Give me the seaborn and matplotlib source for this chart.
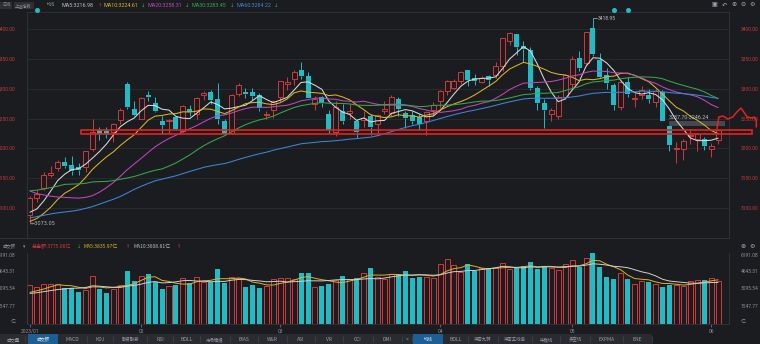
import numpy as np
import pandas as pd
import matplotlib
matplotlib.use("Agg")
import matplotlib.pyplot as plt
import seaborn as sns
from matplotlib.patches import Rectangle

# ---------------- data (Shanghai Composite, daily, 2023-01-03 .. 2023-06-02) ----------------
open_ = [3087.5, 3117.0, 3132.8, 3155.0, 3167.0, 3177.0, 3171.5, 3169.0, 3169.0, 3199.0,
         3230.0, 3229.0, 3228.0, 3248.0, 3308.0, 3266.0, 3250.0, 3290.0, 3276.5, 3245.5,
         3246.0, 3253.0, 3229.0, 3266.0, 3257.0, 3290.0, 3294.0, 3282.0, 3245.0, 3226.0,
         3292.0, 3294.0, 3294.0, 3289.0, 3256.0, 3265.0, 3287.0, 3308.0, 3316.0, 3332.0,
         3321.0, 3275.0, 3286.0, 3257.0, 3228.0, 3262.0, 3259.0, 3245.0, 3247.0, 3254.0,
         3240.0, 3262.0, 3260.0, 3283.0, 3259.0, 3256.0, 3253.0, 3245.0, 3264.0, 3279.0,
         3296.0, 3302.0, 3313.0, 3331.0, 3318.0, 3312.0, 3321.0, 3324.0, 3338.0, 3380.0,
         3391.6, 3372.0, 3365.0, 3301.0, 3276.5, 3257.0, 3255.0, 3286.0, 3308.0, 3352.0,
         3344.0, 3403.0, 3348.0, 3324.0, 3306.0, 3270.0, 3311.0, 3282.0, 3290.0, 3290.0,
         3278.0, 3295.0, 3237.7, 3198.0, 3198.0, 3220.0, 3216.0, 3215.0, 3198.0, 3214.6]
high = [3119.9, 3129.0, 3159.4, 3170.7, 3181.0, 3185.0, 3187.0, 3175.0, 3196.0, 3250.0,
        3235.0, 3236.0, 3242.0, 3267.0, 3311.0, 3279.0, 3287.0, 3296.0, 3286.0, 3255.0,
        3250.0, 3254.0, 3272.0, 3272.0, 3286.0, 3296.0, 3298.0, 3310.0, 3250.0, 3292.0,
        3309.0, 3302.0, 3302.0, 3293.0, 3262.0, 3281.0, 3313.0, 3319.0, 3331.0, 3345.0,
        3328.0, 3288.0, 3288.0, 3264.0, 3280.0, 3275.0, 3274.0, 3250.0, 3262.0, 3258.0,
        3258.0, 3279.0, 3290.0, 3286.0, 3262.0, 3263.0, 3258.0, 3263.0, 3277.0, 3298.0,
        3314.0, 3316.0, 3330.0, 3332.0, 3325.0, 3322.0, 3324.0, 3345.0, 3386.0, 3396.0,
        3392.0, 3380.0, 3370.0, 3305.0, 3282.0, 3268.0, 3290.0, 3325.0, 3355.0, 3364.0,
        3396.0, 3418.95, 3360.0, 3335.0, 3310.0, 3314.0, 3320.0, 3293.0, 3305.0, 3300.0,
        3300.0, 3298.0, 3237.7, 3210.0, 3216.0, 3233.0, 3226.0, 3219.0, 3209.0, 3231.0]
low = [3073.05, 3109.0, 3130.2, 3151.0, 3161.0, 3166.0, 3155.0, 3155.0, 3160.0, 3195.0,
       3214.0, 3218.0, 3211.0, 3240.0, 3266.0, 3254.0, 3249.0, 3280.0, 3261.0, 3224.0,
       3225.0, 3230.0, 3228.0, 3255.0, 3250.0, 3281.0, 3275.0, 3240.0, 3222.0, 3224.0,
       3288.0, 3284.0, 3281.0, 3263.0, 3250.0, 3251.0, 3278.0, 3298.0, 3306.0, 3317.0,
       3285.0, 3265.0, 3270.0, 3226.0, 3220.0, 3240.0, 3250.0, 3218.0, 3235.0, 3222.0,
       3225.0, 3258.0, 3255.0, 3255.0, 3234.0, 3240.0, 3230.0, 3223.0, 3255.0, 3268.0,
       3290.0, 3300.0, 3308.0, 3305.0, 3306.0, 3310.0, 3305.0, 3318.0, 3330.0, 3374.0,
       3357.0, 3345.0, 3298.0, 3265.0, 3234.0, 3246.0, 3250.0, 3283.0, 3300.0, 3330.0,
       3340.0, 3355.0, 3318.0, 3300.0, 3265.0, 3265.0, 3287.0, 3270.0, 3282.0, 3276.0,
       3270.0, 3246.24, 3196.0, 3176.0, 3181.0, 3207.0, 3195.0, 3197.0, 3186.0, 3207.0]
close = [3116.51, 3123.52, 3155.22, 3157.64, 3176.08, 3169.51, 3161.84, 3163.45, 3195.31, 3227.59,
         3224.24, 3224.41, 3240.28, 3264.81, 3269.32, 3255.67, 3284.92, 3285.67, 3263.41, 3238.70,
         3248.09, 3232.11, 3270.38, 3260.67, 3284.16, 3293.28, 3280.49, 3249.03, 3224.02, 3290.34,
         3306.52, 3291.15, 3287.48, 3267.16, 3258.03, 3279.61, 3312.35, 3310.65, 3328.39, 3322.03,
         3285.10, 3283.25, 3276.09, 3230.08, 3268.70, 3245.31, 3263.31, 3226.89, 3250.55, 3234.91,
         3255.65, 3265.75, 3286.65, 3265.65, 3251.40, 3245.38, 3240.06, 3261.25, 3272.86, 3296.40,
         3312.56, 3312.63, 3327.65, 3315.36, 3313.57, 3318.36, 3314.64, 3338.15, 3385.61, 3393.33,
         3370.13, 3367.03, 3301.26, 3275.41, 3264.87, 3264.10, 3285.88, 3323.27, 3350.46, 3334.50,
         3395.00, 3357.67, 3319.15, 3309.55, 3272.36, 3310.74, 3290.99, 3284.22, 3297.32, 3283.54,
         3296.47, 3246.24, 3204.70, 3201.26, 3212.50, 3221.45, 3224.21, 3204.56, 3204.63, 3230.07]
# closes of the 59 sessions before the window (needed for the moving averages at the left edge)
warmup_close = [2979.79, 3025.51, 3016.36, 3071.99, 3084.94, 3080.96, 3044.38, 3035.05, 3038.93, 2977.56,
                2976.28, 2999.50, 2982.90, 2915.93, 2893.48, 2969.20, 3003.37, 2997.81, 3070.80, 3077.82,
                3064.49, 3048.17, 3036.13, 3087.29, 3083.40, 3134.08, 3119.98, 3115.43, 3097.24, 3085.04,
                3088.94, 3096.91, 3089.31, 3101.69, 3078.55, 3149.75, 3151.34, 3165.47, 3156.14, 3211.81,
                3212.53, 3199.62, 3197.35, 3206.95, 3179.04, 3176.33, 3176.53, 3168.65, 3167.86, 3107.12,
                3073.77, 3068.41, 3054.43, 3045.87, 3065.56, 3095.57, 3087.40, 3073.70, 3089.26]
# turnover (亿)
amount = [3386, 3241, 3473, 3444, 3502, 3097, 3097, 2807, 2952, 4167,
          3039, 2720, 3010, 3386, 4601, 3762, 4167, 4370, 3617, 3010,
          3299, 3386, 4023, 3589, 4052, 3675, 3617, 4746, 3589, 4052,
          3965, 3241, 3386, 3097, 3299, 3878, 3965, 3965, 3907, 4399,
          4399, 3183, 3328, 3473, 3820, 4167, 3878, 4023, 4399, 4833,
          4100, 3878, 4341, 4341, 4601, 4023, 4110, 4052, 4023, 5209,
          5643, 5122, 4486, 5209, 4601, 4833, 4833, 4833, 5325, 4775,
          4833, 5065, 5354, 4775, 4978, 4833, 4688, 5209, 5556, 4978,
          5701, 6191.08, 4978, 4052, 3907, 4399, 3907, 3473, 3733, 3675,
          3500, 3250, 3400, 3420, 3338, 3760, 3780, 3850, 4015, 3775.08]
warmup_amount = [2710, 2480, 2530, 2620, 2510, 2570, 2690, 2450, 2650]

month_pos = [0, 16, 36, 59, 78, 98]
month_labels = ["2023/01", "02", "03", "04", "05", "06"]
price_ticks = [3100, 3150, 3200, 3250, 3300, 3350, 3400]
vol_ticks = [0, 1547.77, 3095.54, 4643.31, 6191.08]
vol_tick_labels = ["亿", "1547.77", "3095.54", "4643.31", "6191.08"]

ma_periods = [5, 10, 20, 30, 60]
ma_colors = ["#d9d9d9", "#d8b526", "#c046be", "#35a84a", "#3a86d8"]
ma_header = ["MA5:3216.98", "MA10:3224.61", "MA20:3258.31", "MA30:3283.45", "MA60:3284.22"]
ma_arrows = ["↑", "↓", "↓", "↓", "↓"]

event_pos = [1, 84, 86]
gap_range = [3237.70, 3246.24]
box_range = [3224.2, 3230.4]
sketch_x = [98.85, 99.1, 99.7, 100.4, 101.1, 101.7, 102.3, 102.7, 103.2, 103.9, 104.2, 104.5, 104.5]
sketch_y = [3233.5, 3252.5, 3254.2, 3249.2, 3252.5, 3260.9, 3267.7, 3260.9, 3252.5, 3250.9, 3252.5, 3247.5, 3235.7]

# ---------------- style ----------------
BG = "#1b1c20"
RED = "#d2393a"
CYAN = "#1fbcc6"
GRID = "#2c2d33"
TXT = "#8d919a"
LBLRED = "#c9383a"
GREEN = "#2fb54c"
MARK = "#e3241e"
AXFS = 3.5
NUMFONT = ["Roboto", "DejaVu Sans"]

sns.set_theme(style="dark")
plt.rcParams['font.family'] = ['Noto Sans CJK SC', 'DejaVu Sans']
plt.rcParams['axes.unicode_minus'] = False

W, H = 760, 344
fig = plt.figure(figsize=(W / 100, H / 100), dpi=100, facecolor=BG)

def fx(px):
    return px / W

def fy(py):
    return 1 - py / H

o = np.array(open_); h = np.array(high); l = np.array(low); c = np.array(close)
amt = np.array(amount, dtype=float)
n = len(c)
x = np.arange(n)

# ---------------- price panel ----------------
ax = fig.add_axes([fx(27), fy(238), (729 - 27) / W, (238 - 12.3) / H])
ax.set_facecolor(BG)
ax.set_xlim(-0.43, 100.57)
ax.set_ylim(3049.1, 3428.6)
for s in ax.spines.values():
    s.set_color("#33343a"); s.set_linewidth(0.6)
ax.set_yticks(price_ticks)
ax.set_yticklabels([f"{v:.2f}" for v in price_ticks], family=NUMFONT)
ax.tick_params(axis="y", which="both", left=False, right=False, labelleft=True, labelright=True,
               labelsize=AXFS, labelcolor=LBLRED, pad=2.2)
ax.set_xticks([])
ax.grid(axis="y", color=GRID, lw=0.6)
ax.grid(axis="x", visible=False)

up = c >= o
col = np.where(up, RED, CYAN)
blo = np.minimum(o, c); bhi = np.maximum(o, c)
ax.vlines(x, l, blo, colors=col, lw=0.7, zorder=2)
ax.vlines(x, bhi, h, colors=col, lw=0.7, zorder=2)
hgt = np.maximum(bhi - blo, 0.9)
ax.bar(x[up], hgt[up], bottom=blo[up], width=0.72, facecolor=BG, edgecolor=RED, linewidth=0.7, zorder=2)
ax.bar(x[~up], hgt[~up], bottom=blo[~up], width=0.72, color=CYAN, linewidth=0, zorder=2)

full_close = pd.Series(warmup_close + close)
for p, colr in zip(ma_periods, ma_colors):
    ma = full_close.rolling(p).mean().iloc[len(warmup_close):].to_numpy()
    sns.lineplot(x=x, y=ma, ax=ax, color=colr, lw=0.75, legend=False, zorder=3)

# gap box
ax.add_patch(Rectangle((91.9, gap_range[0]), 8.1, gap_range[1] - gap_range[0], facecolor="#55585e",
                       edgecolor="none", alpha=0.75, zorder=1))
ax.text(91.9, gap_range[1] + 1.5, f"{gap_range[0]:.2f}-{gap_range[1]:.2f}", color="#b8bcc4",
        fontsize=3.9, va="bottom", ha="left", zorder=4, family=NUMFONT)

# high / low labels
ih = int(np.argmax(h)); il = int(np.argmin(l))
ax.plot([ih, ih + 0.6], [h[ih], h[ih]], color="#b8bcc4", lw=0.5, zorder=4)
ax.text(ih + 0.65, h[ih], f"{h[ih]:.2f}", color="#b8bcc4", fontsize=3.6, va="center", ha="left",
        family=NUMFONT)
ax.text(il + 0.1, l[il], f"←{l[il]:.2f}", color="#b8bcc4", fontsize=3.6, va="center", ha="left",
        family=["DejaVu Sans"])

# event dots
ax.plot(event_pos, [3432] * len(event_pos), ls="none", marker="o", ms=2.6, color=CYAN, clip_on=False, zorder=5)

# hand-drawn marks
ax.add_patch(Rectangle((7.3, box_range[0]), 96.6, box_range[1] - box_range[0], fill=False,
                       edgecolor=MARK, lw=1.2, clip_on=False, zorder=6))
ax.plot(sketch_x, sketch_y, color=MARK, lw=1.1, clip_on=False, zorder=6)

# ---------------- volume panel ----------------
axv = fig.add_axes([fx(27), fy(324), (729 - 27) / W, (324 - 252.7) / H])
axv.set_facecolor(BG)
axv.set_xlim(-0.43, 100.57)
axv.set_ylim(0, 6191.08)
for s in axv.spines.values():
    s.set_color("#33343a"); s.set_linewidth(0.6)
axv.spines["top"].set_visible(False)
axv.bar(x[up], amt[up], width=0.72, facecolor=BG, edgecolor=RED, linewidth=0.7, zorder=2)
axv.bar(x[~up], amt[~up], width=0.72, color=CYAN, linewidth=0, zorder=2)
full_amt = pd.Series(warmup_amount + amount, dtype=float)
for p, colr in zip([5, 10], ["#d8b526", "#d0d0d0"]):
    ma = full_amt.rolling(p).mean().iloc[len(warmup_amount):].to_numpy()
    sns.lineplot(x=x, y=ma, ax=axv, color=colr, lw=0.7, legend=False, zorder=3)
axv.set_yticks(vol_ticks)
axv.set_yticklabels(vol_tick_labels)
axv.tick_params(axis="y", left=False, right=False, labelleft=True, labelright=True,
                labelsize=AXFS, labelcolor=TXT, pad=2.2)
for lab in axv.get_yticklabels():
    if lab.get_text() == "6191.08":
        lab.set_va("top")
    elif lab.get_text() == "亿":
        lab.set_va("bottom")
    if lab.get_text() != "亿":
        lab.set_family(NUMFONT)
axv.grid(False)
axv.set_xticks(month_pos)
axv.set_xticklabels(month_labels, family=NUMFONT)
axv.tick_params(axis="x", bottom=True, length=2, width=0.6, color="#6b6e76", labelsize=AXFS,
                labelcolor=TXT, pad=1.5)

# ---------------- header texts ----------------
def t(px, py, s, color=TXT, size=4.0, ha="left", **kw):
    fig.text(fx(px), fy(py), s, color=color, fontsize=size, ha=ha, va="center", **kw)

fig.patches.append(Rectangle((fx(0), fy(9)), fx(12), 7 / H, transform=fig.transFigure,
                             facecolor="#2e2f35", edgecolor="none"))
fig.patches.append(Rectangle((fx(13.5), fy(9)), fx(20), 7 / H, transform=fig.transFigure,
                             facecolor="#2e2f35", edgecolor="none"))
t(2, 5.3, "日线", size=3.0)
t(15, 5.3, "上证指数", size=3.0)
t(47, 5.3, "均线", size=3.0)
hx = [61, 103, 147, 191, 236]
arrow_x = [97.5, 141, 185, 230, 274]
for px, ax_, s, colr, arr in zip(hx, arrow_x, ma_header, ma_colors, ma_arrows):
    fig.text(fx(px), fy(5.3), s, color=colr if colr != "#d9d9d9" else "#b9bcc2", fontsize=3.9,
             ha="left", va="center", family=NUMFONT)
    t(ax_, 5.3, arr, color=(RED if arr == "↑" else GREEN), size=3.8, family=["DejaVu Sans"])

for px, s in zip([714, 724, 734, 743, 752], ["▣", "↶", "⊕", "⊖", "⚙"]):
    t(px, 4.5, s, color="#a9acb3", size=4.4, ha="center", family=["DejaVu Sans"])

# volume header
t(3, 246.5, "成交额", size=3.2)
t(22.5, 246.5, "▾", size=3.4, family=["DejaVu Sans"])
t(32, 246.5, "总金额:3775.08亿", color="#d23a3a", size=3.6)
t(76.5, 246.5, "↓", color=GREEN, size=3.6, family=["DejaVu Sans"])
t(84, 246.5, "MA5:3835.97亿", color="#d8b526", size=3.6)
t(125.5, 246.5, "↑", color=RED, size=3.6, family=["DejaVu Sans"])
t(133, 246.5, "MA10:3608.81亿", color="#b9bcc2", size=3.6)
t(177, 246.5, "↑", color=RED, size=3.6, family=["DejaVu Sans"])
t(743, 246, "⊗", color="#a9acb3", size=4.4, ha="center", family=["DejaVu Sans"])
t(752, 246, "⚙", color="#a9acb3", size=4.4, ha="center", family=["DejaVu Sans"])

# separator line between panels
fig.lines.append(plt.Line2D([0, fx(729)], [fy(238), fy(238)], transform=fig.transFigure,
                            color="#33343a", lw=0.6))

# ---------------- bottom tab bar ----------------
fig.patches.append(Rectangle((0, 0), fx(652), 10 / H, transform=fig.transFigure,
                             facecolor="#2a2b30", edgecolor="none"))
tabs_left = [("成交量", 2, 25), ("成交额", 28, 58), ("MACD", 58, 87), ("KDJ", 87, 113),
             ("融资融券", 113, 147), ("RSI", 147, 173), ("BOLL", 173, 200), ("市场情绪", 200, 230),
             ("BIAS", 230, 258), ("W&R", 258, 287), ("ASI", 287, 315), ("VR", 315, 343),
             ("CCI", 343, 373), ("DMI", 373, 402), (">", 402, 412), ("均线", 413, 443),
             ("BOLL", 443, 468), ("神奇九转", 468, 498), ("神奇五线谱", 498, 532), ("牛熊线", 532, 560),
             ("多空线", 560, 590), ("EXPMA", 590, 623), ("ENE", 623, 652)]
active = {"成交额", "均线"}
for name, a, b in tabs_left:
    if name in active:
        fig.patches.append(Rectangle((fx(a), 0), fx(b - a), 10 / H, transform=fig.transFigure,
                                     facecolor="#1d5f94", edgecolor="none"))
    else:
        fig.lines.append(plt.Line2D([fx(b), fx(b)], [fy(342), fy(336)], transform=fig.transFigure,
                                    color="#44464d", lw=0.5))
    t((a + b) / 2, 339.3, name, color=("#e6e8ec" if name in active else "#9a9da5"),
      size=(3.2 if any(ord(ch) > 127 for ch in name) else 3.6), ha="center")

fig.savefig("out.png", dpi=100, facecolor=BG)
